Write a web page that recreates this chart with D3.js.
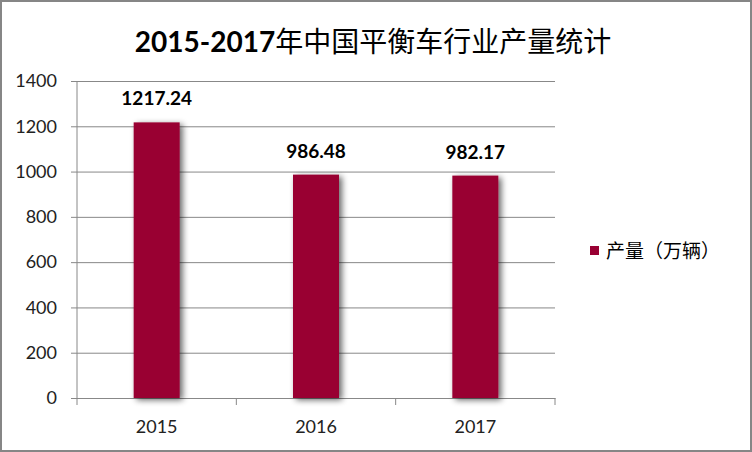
<!DOCTYPE html>
<html>
<head>
<meta charset="utf-8">
<script src="https://cdn.jsdelivr.net/npm/d3@7"></script>
<style>
  body { margin: 0; background: #fff; }
  svg { display: block; }
</style>
</head>
<body>
<div id="chart"></div>
<script>
// data
var years = ["2015", "2016", "2017"];
var output = [1217.24, 986.48, 982.17];
var yTicks = [0, 200, 400, 600, 800, 1000, 1200, 1400];
var seriesName = "产量（万辆）";
var titleText = "2015-2017年中国平衡车行业产量统计";

var W = 752, H = 452;
var plot = { left: 77, right: 555, top: 81, bottom: 398 };
var barColor = "#990033";
var font = "Lato, 'Noto Sans CJK SC', sans-serif";

var svg = d3.select("#chart").append("svg")
  .attr("width", W)
  .attr("height", H);

// drop shadow for bars
var defs = svg.append("defs");
var f = defs.append("filter").attr("id", "shadow")
  .attr("x", "-30%").attr("y", "-20%").attr("width", "170%").attr("height", "150%");
f.append("feGaussianBlur").attr("in", "SourceAlpha").attr("stdDeviation", 3).attr("result", "blur");
f.append("feOffset").attr("in", "blur").attr("dx", 3).attr("dy", 2).attr("result", "off");
f.append("feComponentTransfer").attr("in", "off").attr("result", "soft")
  .append("feFuncA").attr("type", "linear").attr("slope", 0.6);
var merge = f.append("feMerge");
merge.append("feMergeNode").attr("in", "soft");
merge.append("feMergeNode").attr("in", "SourceGraphic");

// outer frame
svg.append("rect")
  .attr("x", 1).attr("y", 1)
  .attr("width", W - 2).attr("height", H - 2)
  .attr("fill", "#fff")
  .attr("stroke", "#868686")
  .attr("stroke-width", 2);

// title: numbers bold, chinese regular
var title = svg.append("text")
  .attr("x", 373).attr("y", 52)
  .attr("text-anchor", "middle")
  .attr("fill", "#000")
  .style("font-size", "28px");
title.append("tspan")
  .style("font-family", "Lato, sans-serif")
  .style("font-weight", "bold")
  .text(titleText.slice(0, 9));
title.append("tspan")
  .style("font-family", "'Noto Sans CJK SC', sans-serif")
  .style("font-weight", "normal")
  .text(titleText.slice(9));

var x = d3.scaleBand()
  .domain(years)
  .range([plot.left, plot.right])
  .paddingInner(0)
  .paddingOuter(0);

var y = d3.scaleLinear()
  .domain([0, 1400])
  .range([plot.bottom, plot.top]);

// gridlines + y axis
var yAxis = d3.axisLeft(y)
  .tickValues(yTicks)
  .tickSize(-(plot.right - plot.left))
  .tickPadding(20)
  .tickFormat(d3.format("d"));

var gy = svg.append("g")
  .attr("transform", "translate(" + plot.left + ",0)")
  .call(yAxis);
gy.select(".domain").remove();
gy.selectAll(".tick line")
  .attr("x1", -6)
  .attr("stroke", "#888");
gy.selectAll(".tick text")
  .attr("fill", "#222")
  .style("font-family", font)
  .style("font-size", "18px");

// y axis line
svg.append("line")
  .attr("x1", plot.left).attr("x2", plot.left)
  .attr("y1", plot.top).attr("y2", plot.bottom)
  .attr("stroke", "#888");

// x axis
var xAxis = d3.axisBottom(x).tickSize(0).tickPadding(22);
var gx = svg.append("g")
  .attr("transform", "translate(0," + plot.bottom + ")")
  .call(xAxis);
gx.select(".domain").attr("stroke", "#888");
gx.selectAll(".tick text")
  .attr("fill", "#222")
  .style("font-family", font)
  .style("font-size", "18px");

// category boundary ticks
var bounds = years.map(function (d) { return x(d); }).concat([plot.right]);
svg.selectAll(".xtick")
  .data(bounds)
  .enter().append("line")
  .attr("class", "xtick")
  .attr("x1", function (d) { return d; })
  .attr("x2", function (d) { return d; })
  .attr("y1", plot.bottom)
  .attr("y2", plot.bottom + 7)
  .attr("stroke", "#888");

// bars
var barW = 46;
svg.selectAll(".bar")
  .data(output)
  .enter().append("rect")
  .attr("class", "bar")
  .attr("x", function (d, i) { return x(years[i]) + x.bandwidth() / 2 - barW / 2; })
  .attr("y", function (d) { return y(d); })
  .attr("width", barW)
  .attr("height", function (d) { return plot.bottom - y(d); })
  .attr("fill", barColor)
  .attr("filter", "url(#shadow)");

// value labels
svg.selectAll(".lbl")
  .data(output)
  .enter().append("text")
  .attr("class", "lbl")
  .attr("x", function (d, i) { return x(years[i]) + x.bandwidth() / 2; })
  .attr("y", function (d) { return y(d) - 17; })
  .attr("text-anchor", "middle")
  .attr("fill", "#000")
  .style("font-family", font)
  .style("font-weight", "bold")
  .style("font-size", "19px")
  .text(function (d) { return d.toFixed(2); });

// legend
var lg = svg.append("g").attr("transform", "translate(590,246)");
lg.append("rect")
  .attr("width", 9).attr("height", 9)
  .attr("fill", barColor);
lg.append("text")
  .attr("x", 16).attr("y", 12)
  .attr("fill", "#000")
  .style("font-family", "'Noto Sans CJK SC', sans-serif")
  .style("font-size", "19px")
  .text(seriesName);
</script>
</body>
</html>
